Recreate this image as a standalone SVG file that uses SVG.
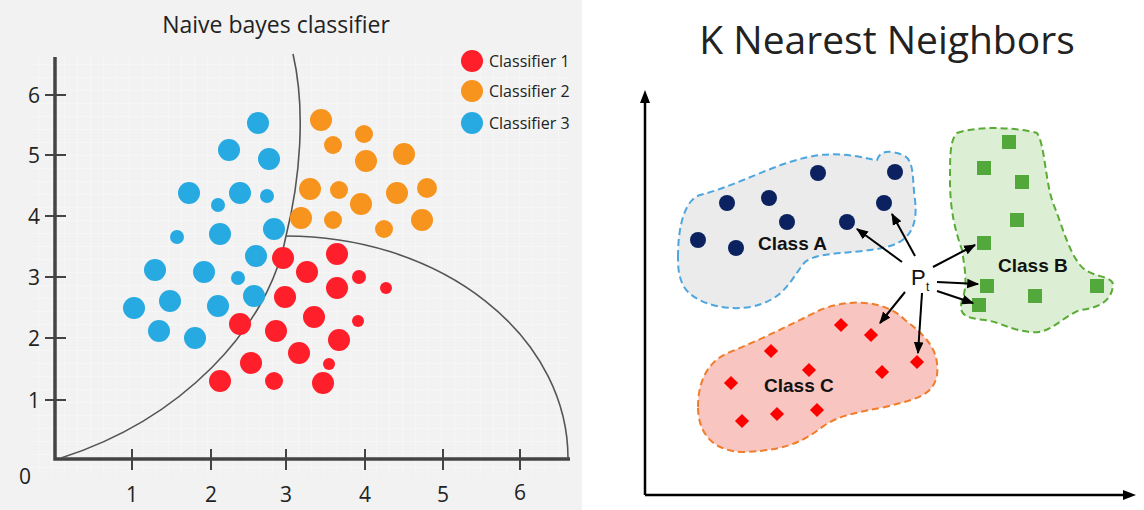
<svg xmlns="http://www.w3.org/2000/svg" width="1144" height="510" viewBox="0 0 1144 510">
<defs>
<style>
.t{font-family:"Open Sans","Liberation Sans",sans-serif;fill:#222}
.ax{stroke:#444;stroke-width:3.5;fill:none}
.cur{stroke:#555;stroke-width:1.6;fill:none}
.r{fill:#fe1f2a}.o{fill:#f7941d}.b{fill:#27aae1}
.na{fill:#0b2160}.sq{fill:#52a83a}.dm{fill:#ff0000}
.cl{font-family:"Liberation Sans",Arial,sans-serif;font-weight:bold;font-size:19px;fill:#111}
</style>
<marker id="ah2" viewBox="0 0 10 10" refX="9" refY="5" markerWidth="6" markerHeight="6" orient="auto"><path d="M0,1L10,5L0,9z" fill="#000"/></marker>
<pattern id="grid" width="13" height="13" patternUnits="userSpaceOnUse"><path d="M13,0V13H0" fill="none" stroke="#fafafa" stroke-width="1"/></pattern>
</defs>
<rect width="1144" height="510" fill="#fff"/>
<g id="naive-bayes">
<rect x="0" y="0" width="582" height="510" fill="#f2f2f2"/>
<rect x="30" y="55" width="540" height="420" fill="url(#grid)"/>
<text class="t" x="276" y="33" font-size="23" text-anchor="middle">Naive bayes classifier</text>
<path class="ax" d="M55,57V459H570"/>
<g stroke="#444" stroke-width="2">
<path d="M45,95H66M45,155H66M45,216H66M45,277H66M45,338H66M45,400H66"/>
<path d="M132,449V470M211,449V470M286,449V470M365,449V470M443,449V470M520,449V470"/>
</g>
<g class="t" font-size="21" text-anchor="middle">
<text x="34" y="103">6</text><text x="34" y="163">5</text><text x="34" y="224">4</text><text x="34" y="285">3</text><text x="34" y="346">2</text><text x="34" y="408">1</text>
<text x="25" y="484">0</text>
<text x="132" y="502">1</text><text x="211" y="502">2</text><text x="286" y="502">3</text><text x="365" y="502">4</text><text x="443" y="502">5</text><text x="520" y="500">6</text>
</g>
<path class="cur" d="M61,458C180,420 268,330 286,236C300,180 306,110 293,54"/>
<path class="cur" d="M286,236A282 222 0 0 1 568 458"/>
<g class="b">
<circle cx="258" cy="123" r="11"/><circle cx="229" cy="150" r="11"/><circle cx="269" cy="159" r="11"/><circle cx="189" cy="193" r="11"/><circle cx="240" cy="193" r="11"/><circle cx="267" cy="196" r="7"/><circle cx="218" cy="205" r="7"/><circle cx="274" cy="229" r="11"/><circle cx="220" cy="234" r="11"/><circle cx="177" cy="237" r="7"/><circle cx="256" cy="256" r="11"/><circle cx="155" cy="270" r="11"/><circle cx="204" cy="272" r="11"/><circle cx="238" cy="278" r="7"/><circle cx="254" cy="296" r="11"/><circle cx="170" cy="301" r="11"/><circle cx="218" cy="306" r="11"/><circle cx="134" cy="308" r="11"/><circle cx="159" cy="331" r="11"/><circle cx="195" cy="338" r="11"/>
</g>
<g class="o">
<circle cx="321" cy="120" r="11"/><circle cx="364" cy="134" r="9"/><circle cx="333" cy="145" r="9"/><circle cx="366" cy="161" r="11"/><circle cx="404" cy="154" r="11"/><circle cx="310" cy="189" r="11"/><circle cx="339" cy="190" r="9"/><circle cx="427" cy="188" r="10"/><circle cx="397" cy="193" r="11"/><circle cx="361" cy="204" r="11"/><circle cx="301" cy="218" r="11"/><circle cx="333" cy="220" r="9"/><circle cx="422" cy="220" r="11"/><circle cx="384" cy="229" r="9"/>
</g>
<g class="r">
<circle cx="337" cy="254" r="11"/><circle cx="283" cy="258" r="11"/><circle cx="307" cy="272" r="11"/><circle cx="359" cy="277" r="7"/><circle cx="386" cy="288" r="6"/><circle cx="337" cy="288" r="11"/><circle cx="285" cy="297" r="11"/><circle cx="314" cy="317" r="11"/><circle cx="240" cy="324" r="11"/><circle cx="276" cy="331" r="11"/><circle cx="358" cy="321" r="6"/><circle cx="339" cy="340" r="11"/><circle cx="299" cy="353" r="11"/><circle cx="251" cy="363" r="11"/><circle cx="329" cy="364" r="6"/><circle cx="220" cy="381" r="11"/><circle cx="274" cy="381" r="9"/><circle cx="323" cy="383" r="11"/>
</g>
<circle class="r" cx="472" cy="61" r="11"/><circle class="o" cx="472" cy="91" r="11"/><circle class="b" cx="472" cy="123" r="11"/>
<g class="t" font-size="16"><text x="489" y="67">Classifier 1</text><text x="489" y="97">Classifier 2</text><text x="489" y="129">Classifier 3</text></g>
</g>
<g id="knn">
<text class="t" x="887" y="54" font-size="39" text-anchor="middle">K Nearest Neighbors</text>
<path d="M645,495V97M645,495H1128" stroke="#000" stroke-width="2.5" fill="none"/>
<path d="M645,90L640,103H650z M1136,495L1123,490V500z" fill="#000"/>
<g id="classA">
<path d="M678,257C678,225 685,200 700,195C740,185 780,160 820,155C850,152 870,160 877,160C880,150 890,150 903,155C915,160 912,180 915,200C918,225 910,240 890,246C860,255 820,250 805,262C790,280 785,300 750,307C720,312 690,300 683,285C678,275 678,265 678,257Z" fill="#ebebeb" stroke="#4da6df" stroke-width="2" stroke-dasharray="7,4"/>
<g class="na"><circle cx="818" cy="173" r="8"/><circle cx="895" cy="172" r="8"/><circle cx="727" cy="203" r="8"/><circle cx="769" cy="198" r="8"/><circle cx="884" cy="203" r="8"/><circle cx="787" cy="222" r="8"/><circle cx="847" cy="222" r="8"/><circle cx="698" cy="240" r="8"/><circle cx="736" cy="248" r="8"/></g>
<text class="cl" x="758" y="250" font-size="15">Class A</text>
</g>
<g id="classB">
<path d="M957,133C980,125 1020,128 1037,133C1045,145 1045,180 1053,203C1062,225 1068,250 1080,265C1090,278 1113,275 1113,285C1112,300 1100,308 1080,310C1060,318 1050,335 1030,332C1010,330 1000,322 985,320C965,318 958,315 962,300C968,285 965,270 962,250C955,230 950,210 950,180C950,155 950,140 957,133Z" fill="#dcefd4" stroke="#5aab35" stroke-width="2" stroke-dasharray="7,4"/>
<g class="sq"><rect x="1002" y="135" width="14" height="14"/><rect x="977" y="161" width="14" height="14"/><rect x="1015" y="175" width="14" height="14"/><rect x="1010" y="213" width="14" height="14"/><rect x="977" y="236" width="14" height="14"/><rect x="980" y="279" width="14" height="14"/><rect x="1028" y="289" width="14" height="14"/><rect x="1090" y="279" width="14" height="14"/><rect x="972" y="298" width="14" height="14"/></g>
<text class="cl" x="998" y="272">Class B</text>
</g>
<g id="classC">
<path d="M698,407C698,385 705,362 730,352C760,340 790,325 820,310C850,298 885,300 905,320C925,335 940,350 937,375C933,398 910,400 885,407C860,412 840,415 825,425C805,440 790,450 745,452C710,452 698,430 698,407Z" fill="#f9c5c0" stroke="#f07d2a" stroke-width="2" stroke-dasharray="7,4"/>
<g class="dm"><rect x="836" y="320" width="10" height="10" transform="rotate(45 841 325)"/><rect x="866" y="330" width="10" height="10" transform="rotate(45 871 335)"/><rect x="766" y="346" width="10" height="10" transform="rotate(45 771 351)"/><rect x="804" y="365" width="10" height="10" transform="rotate(45 809 370)"/><rect x="877" y="367" width="10" height="10" transform="rotate(45 882 372)"/><rect x="912" y="357" width="10" height="10" transform="rotate(45 917 362)"/><rect x="726" y="378" width="10" height="10" transform="rotate(45 731 383)"/><rect x="812" y="405" width="10" height="10" transform="rotate(45 817 410)"/><rect x="772" y="409" width="10" height="10" transform="rotate(45 777 414)"/><rect x="737" y="416" width="10" height="10" transform="rotate(45 742 421)"/></g>
<text class="cl" x="764" y="392">Class C</text>
</g>
<g id="pt"><text x="911" y="285" font-family="Liberation Sans,Arial,sans-serif" font-size="22" fill="#111">P</text><text x="926" y="291" font-family="Liberation Sans,Arial,sans-serif" font-size="12" fill="#111">t</text></g>
<g id="connectors" stroke="#000" stroke-width="2" fill="none">
<path d="M902,262L857,229" marker-end="url(#ah2)"/>
<path d="M915,256L892,214" marker-end="url(#ah2)"/>
<path d="M933,267L975,245" marker-end="url(#ah2)"/>
<path d="M937,282L978,284" marker-end="url(#ah2)"/>
<path d="M937,291L973,303" marker-end="url(#ah2)"/>
<path d="M905,292L880,323" marker-end="url(#ah2)"/>
<path d="M922,293L918,353" marker-end="url(#ah2)"/>
</g>
</g>
</svg>
